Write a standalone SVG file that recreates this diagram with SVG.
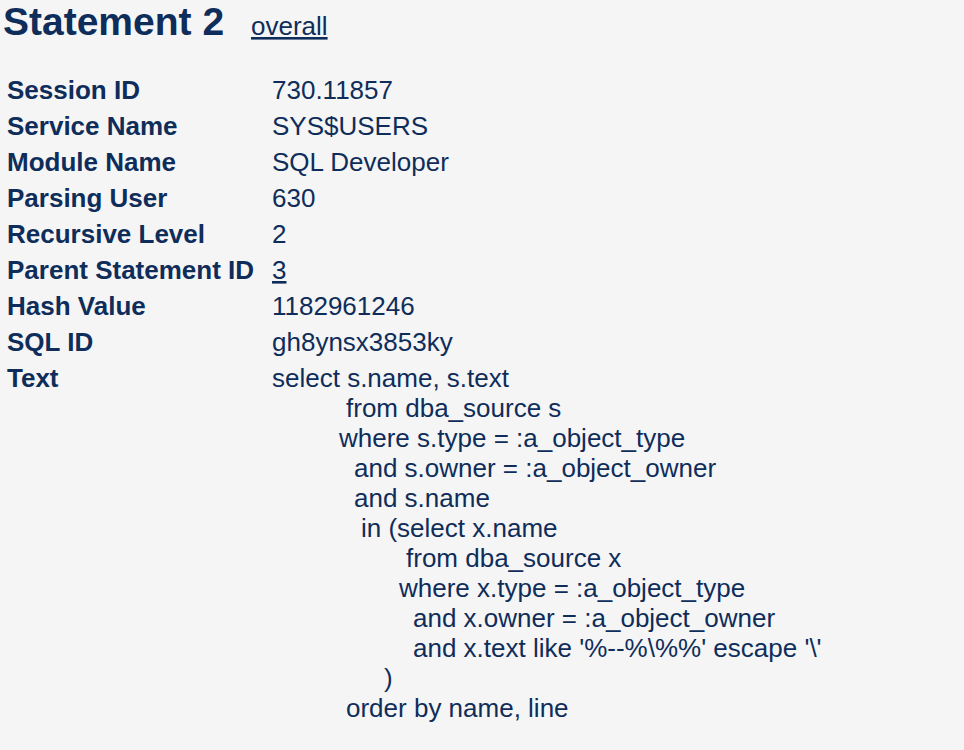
<svg xmlns="http://www.w3.org/2000/svg" width="964" height="750" viewBox="0 0 964 750">
<style>
text{font-family:"Liberation Sans",Arial,sans-serif;fill:#0f2d5a;font-size:26px}
.b{font-weight:bold}
.t{font-size:39px;font-weight:bold}
.u{text-decoration:underline}
</style>
<rect width="964" height="750" fill="#f5f5f5"/>
<text class="t" x="3" y="35">Statement 2</text>
<text class="u" x="251" y="35">overall</text>
<g class="b">
<text class="b" x="7" y="99">Session ID</text>
<text class="b" x="7" y="135">Service Name</text>
<text class="b" x="7" y="171">Module Name</text>
<text class="b" x="7" y="207">Parsing User</text>
<text class="b" x="7" y="243">Recursive Level</text>
<text class="b" x="7" y="279">Parent Statement ID</text>
<text class="b" x="7" y="315">Hash Value</text>
<text class="b" x="7" y="351">SQL ID</text>
<text class="b" x="7" y="387">Text</text>
</g>
<text x="272" y="99">730.11857</text>
<text x="272" y="135">SYS$USERS</text>
<text x="272" y="171">SQL Developer</text>
<text x="272" y="207">630</text>
<text x="272" y="243">2</text>
<text class="u" x="272" y="279">3</text>
<text x="272" y="315">1182961246</text>
<text x="272" y="351">gh8ynsx3853ky</text>
<text x="272" y="387">select s.name, s.text</text>
<text x="346" y="417">from dba_source s</text>
<text x="339" y="447">where s.type = :a_object_type</text>
<text x="354" y="477">and s.owner = :a_object_owner</text>
<text x="354" y="507">and s.name</text>
<text x="361" y="537">in (select x.name</text>
<text x="406" y="567">from dba_source x</text>
<text x="399" y="597">where x.type = :a_object_type</text>
<text x="413" y="627">and x.owner = :a_object_owner</text>
<text x="413" y="657">and x.text like '%--%\%%' escape '\'</text>
<text x="384" y="687">)</text>
<text x="346" y="717">order by name, line</text>
</svg>
